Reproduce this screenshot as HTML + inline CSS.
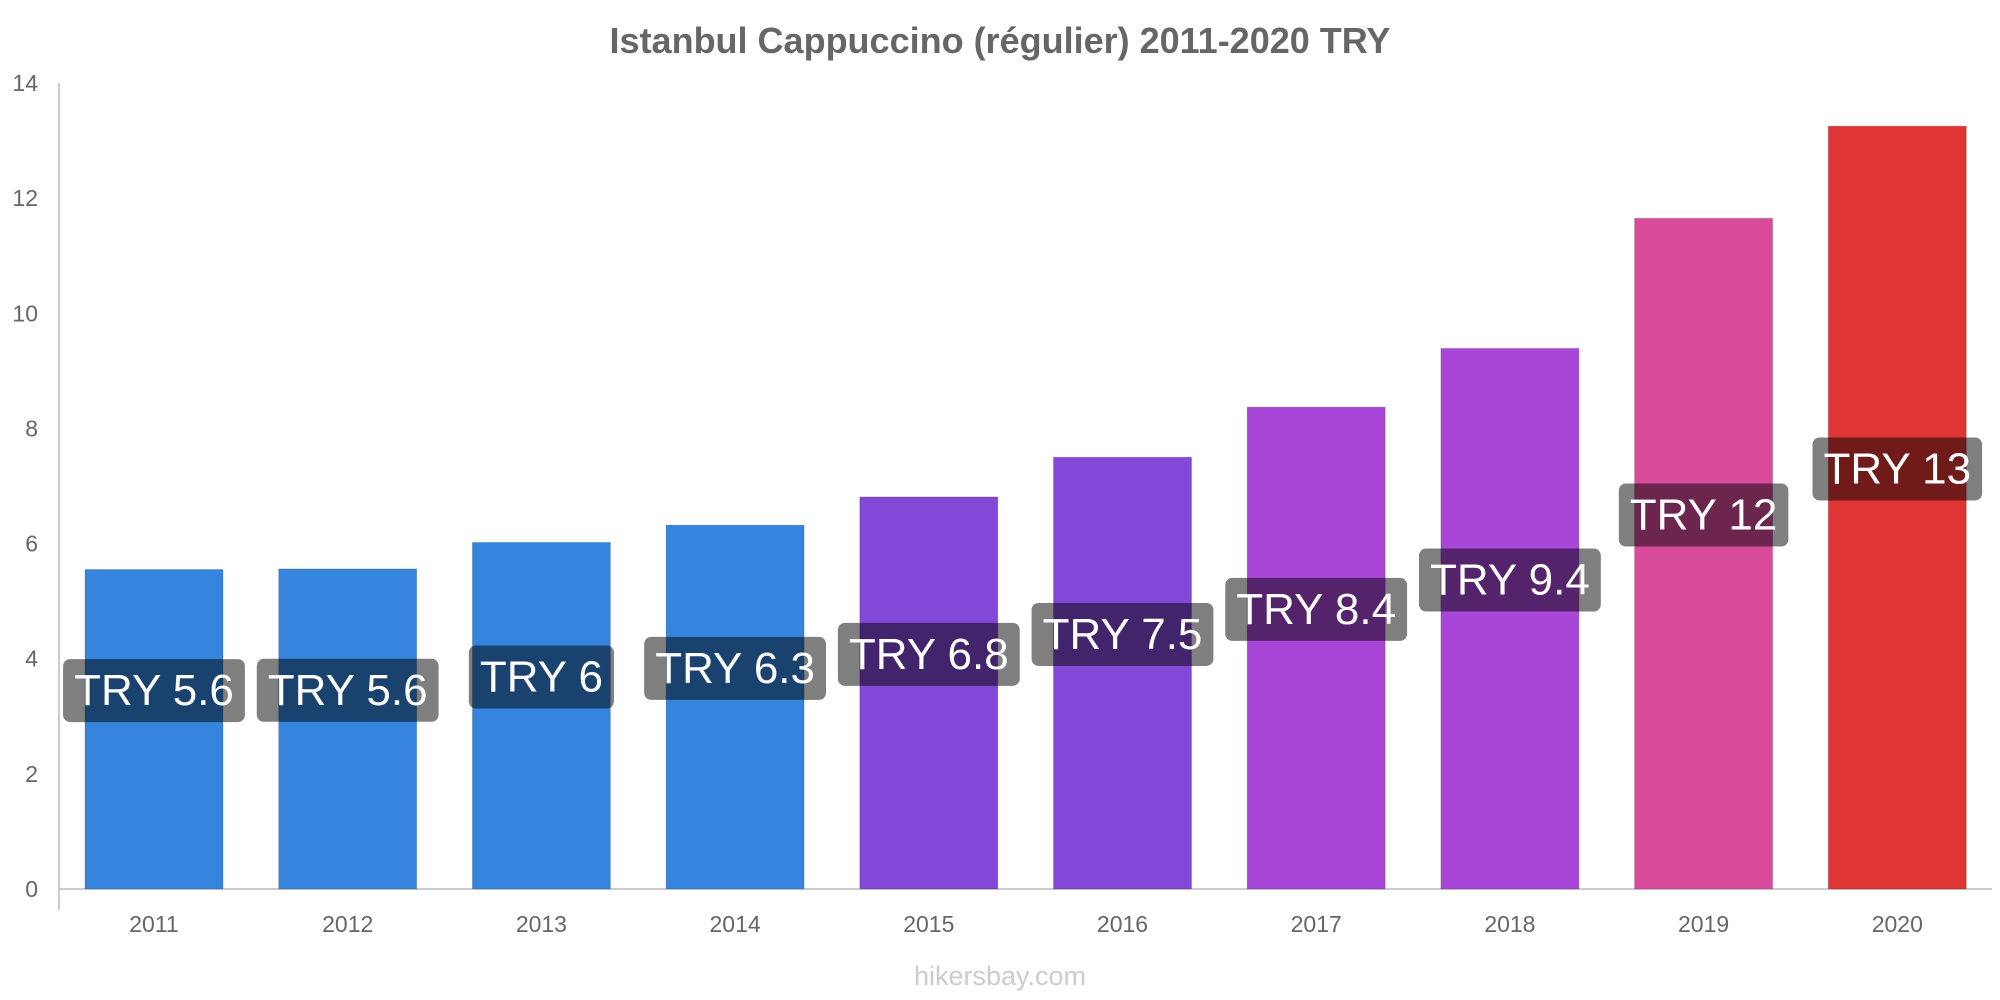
<!DOCTYPE html>
<html><head><meta charset="utf-8"><style>
html,body{margin:0;padding:0;background:#fff;}
svg{display:block;font-family:"Liberation Sans",sans-serif;}
</style></head><body>
<svg id="chart" width="2000" height="1000" viewBox="0 0 2000 1000">
<text x="1000" y="53" text-anchor="middle" font-size="36" font-weight="bold" fill="#666">Istanbul Cappuccino (régulier) 2011-2020 TRY</text>
<g id="axes"></g><g id="bars"></g><g id="labels"></g>
<text x="1000" y="985" text-anchor="middle" font-size="27" fill="#ccc">hikersbay.com</text>
</svg>
<script>
const categories=["2011","2012","2013","2014","2015","2016","2017","2018","2019","2020"];
const values=[5.55,5.56,6.02,6.32,6.81,7.5,8.37,9.39,11.65,13.25];
const valueLabels=["TRY 5.6","TRY 5.6","TRY 6","TRY 6.3","TRY 6.8","TRY 7.5","TRY 8.4","TRY 9.4","TRY 12","TRY 13"];
const yTicks=[0,2,4,6,8,10,12,14];
const colors=["#3584de","#3584de","#3584de","#3584de","#8448d8","#8448d8","#a846d8","#a846d8","#d84a9a","#e03535"];
const NS="http://www.w3.org/2000/svg";
const y0=889,yTop=83,yMax=14,xL=59,xR=1992,step=193.7,x0=154,bw=138;
const y=v=>y0-(y0-yTop)*v/yMax;
const x=i=>x0+i*step;
function mk(tag,attrs,parent){const e=document.createElementNS(NS,tag);for(const k in attrs)e.setAttribute(k,attrs[k]);parent.appendChild(e);return e;}
const axes=document.getElementById('axes'),bars=document.getElementById('bars'),labels=document.getElementById('labels');
let ax=mk('line',{x1:xL,y1:83,x2:xL,y2:910,stroke:'#bbb','stroke-width':1.5},axes);


let bx=mk('line',{x1:xL,y1:y0,x2:xR,y2:y0,stroke:'#bbb','stroke-width':1.5},axes);


yTicks.forEach(t=>{
 const tx=mk('text',{x:38,y:y(t)+8,'text-anchor':'end','font-size':23,fill:'#666'},axes);
 tx.textContent=t;
 
 
});
categories.forEach((c,i)=>{
 const r=mk('rect',{x:x(i)-bw/2,y:y(values[i]),width:bw,height:y0-y(values[i]),fill:colors[i],stroke:'rgba(0,0,0,0.15)','stroke-width':1},bars);
 
 
 const xt=mk('text',{x:x(i),y:932,'text-anchor':'middle','font-size':23,fill:'#666'},axes);
 xt.textContent=c;
 
 
 const cy=y(values[i]*0.5+0.68);
 const g=mk('g',{},labels);
 
 
 const bg=mk('rect',{y:cy-31,height:63,rx:7,fill:'rgba(0,0,0,0.5)'},g);
 const t=mk('text',{x:x(i),y:cy+15,'text-anchor':'middle','font-size':44,fill:'#fff'},g);
 t.textContent=valueLabels[i];
 const w=t.getComputedTextLength()+22;
 bg.setAttribute('x',x(i)-w/2);
 bg.setAttribute('width',w);
});
</script>
</body></html>
